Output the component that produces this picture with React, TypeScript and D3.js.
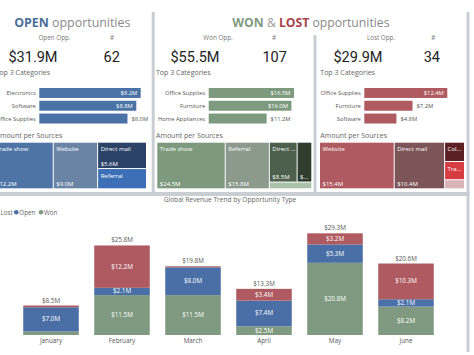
import React from "react";
import * as d3 from "d3";

// ---------- data ----------
const months = ["January", "February", "March", "April", "May", "June"];
const wonByMonth = [1.0, 11.5, 11.5, 2.5, 20.8, 8.2];
const openByMonth = [7.0, 2.1, 8.0, 7.4, 5.3, 2.1];
const lostByMonth = [0.5, 12.2, 0.3, 3.4, 3.2, 10.3];

const kpiLabels = ["Open Opp.", "Won Opp.", "Lost Opp."];
const kpiAmounts = [31.9, 55.5, 29.9];
const kpiCounts = [62, 107, 34];

const openCats = ["Electronics", "Software", "Office Supplies"];
const openCatVals = [9.2, 8.8, 8.0];
const wonCats = ["Office Supplies", "Furniture", "Home Appliances"];
const wonCatVals = [16.5, 16.0, 11.2];
const lostCats = ["Office Supplies", "Furniture", "Software"];
const lostCatVals = [12.4, 7.2, 4.8];

const openSrc = ["Trade show", "Website", "Direct mail", "Referral"];
const openSrcVals = [12.2, 9.0, 5.6, 4.3];
const wonSrc = ["Trade show", "Referral", "Direct mail", "Website", "Cold call"];
const wonSrcVals = [24.5, 15.8, 8.5, 4.5, 2.2];
const lostSrc = ["Website", "Direct mail", "Cold call", "Trade show", "Referral"];
const lostSrcVals = [15.4, 10.4, 1.7, 1.6, 0.8];

// ---------- styles ----------
const C_LOST = "#AE5A60";
const C_OPEN = "#4A6FA6";
const C_WON = "#7F9A80";
const GRID = "#C9CED3";
const FONT = "'Segoe UI', 'Open Sans', 'Noto Sans', sans-serif";
const NUMFONT = "Roboto, 'DejaVu Sans', sans-serif";

const fmt = (v: number) => `$${v.toFixed(1)}M`;

let ctx: CanvasRenderingContext2D | null = null;
function textW(s: string, size: number) {
  if (!ctx) ctx = document.createElement("canvas").getContext("2d");
  if (!ctx) return s.length * size * 0.5;
  ctx.font = `${size}px 'Open Sans'`;
  return ctx.measureText(s).width;
}
function truncate(s: string, w: number, size: number) {
  if (textW(s, size) <= w) return s;
  for (let n = s.length - 1; n >= 1; n--) {
    const t = s.slice(0, n) + "...";
    if (textW(t, size) <= w) return t;
  }
  return "";
}

type Panel = {
  cats: string[];
  catVals: number[];
  barColor: string;
  barX: number;
  barMaxW: number;
  sectionX: number;
  src: string[];
  srcVals: number[];
  groups: any[];
  colors: string[];
  tmX0: number;
  tmX1: number;
  kpiLabelX: number;
  hashX: number;
  amountX: number;
  countX: number;
};

const panels: Panel[] = [
  {
    cats: openCats, catVals: openCatVals, barColor: "#4A72A6", barX: 39.3, barMaxW: 101.4, sectionX: -4.5,
    src: openSrc, srcVals: openSrcVals, groups: [[0], [1], [2, 3]],
    colors: ["#4E74A6", "#6A84A6", "#2B4366", "#3C6FB5"], tmX0: -6.5, tmX1: 146,
    kpiLabelX: 54.5, hashX: 112, amountX: 33, countX: 111.7,
  },
  {
    cats: wonCats, catVals: wonCatVals, barColor: "#7E9A7E", barX: 208.7, barMaxW: 85.3, sectionX: 156,
    src: wonSrc, srcVals: wonSrcVals, groups: [[0], [1], [[2, 3], 4]],
    colors: ["#7E9A7E", "#8C9A8C", "#4D5F4D", "#2E3D2E", "#AAC2AA"], tmX0: 157.3, tmX1: 311.3,
    kpiLabelX: 218, hashX: 274, amountX: 195, countX: 274.7,
  },
  {
    cats: lostCats, catVals: lostCatVals, barColor: "#AE5A60", barX: 364.3, barMaxW: 83, sectionX: 320.3,
    src: lostSrc, srcVals: lostSrcVals, groups: [[0], [1], [2, 3, 4]],
    colors: ["#AE5A60", "#7B5558", "#5C1F24", "#D63D43", "#D8B4B6"], tmX0: 320, tmX1: 464,
    kpiLabelX: 381, hashX: 433.3, amountX: 358, countX: 431.8,
  },
];

function buildTree(g: any, p: Panel): any {
  if (Array.isArray(g)) return { children: g.map((c) => buildTree(c, p)) };
  return { name: p.src[g], value: p.srcVals[g], color: p.colors[g] };
}

function Treemap({ p }: { p: Panel }) {
  const y0 = 142.7, y1 = 188.3;
  const root = d3
    .hierarchy(buildTree(p.groups, p))
    .sum((d: any) => d.value ?? 0);
  d3.treemap<any>()
    .size([p.tmX1 - p.tmX0, y1 - y0])
    .paddingInner(1)
    .tile((node: any, a: number, b: number, c: number, d: number) =>
      node.depth % 2 === 0 ? d3.treemapDice(node, a, b, c, d) : d3.treemapSlice(node, a, b, c, d)
    )(root);
  const fs = 6;
  return (
    <g transform={`translate(${p.tmX0},${y0})`}>
      {root.leaves().map((l: any, i: number) => {
        const w = l.x1 - l.x0, h = l.y1 - l.y0;
        const name = h >= 14 && w >= 16 ? truncate(l.data.name, w - 3, fs) : "";
        const val = h >= 22 ? truncate(fmt(l.data.value), w - 3, fs) : "";
        return (
          <g key={i}>
            <rect x={l.x0} y={l.y0} width={w} height={h} fill={l.data.color} />
            {name && (
              <text x={l.x0 + 2.5} y={l.y0 + 8.5} fontSize={fs} fill="#fff" fontFamily={FONT}>
                {name}
              </text>
            )}
            {val && (
              <text x={l.x0 + 2.5} y={l.y1 - 2.5} fontSize={fs} fill="#fff" fontFamily={FONT}>
                {val}
              </text>
            )}
          </g>
        );
      })}
    </g>
  );
}

function TopPanel({ p, i }: { p: Panel; i: number }) {
  const maxV = d3.max(p.catVals) as number;
  const x = d3.scaleLinear().domain([0, maxV]).range([0, p.barMaxW]);
  const y = d3.scaleBand<number>().domain(p.cats.map((_, k) => k)).range([86.7, 124.8]).paddingInner(0.22).paddingOuter(0.1);
  return (
    <g>
      <text x={p.kpiLabelX} y={40} textAnchor="middle" fontSize={6.3} fill="#777" fontFamily={FONT}>
        {kpiLabels[i]}
      </text>
      <text x={p.hashX} y={40} textAnchor="middle" fontSize={6.3} fill="#777" fontFamily={FONT}>
        #
      </text>
      <text x={p.amountX} y={62} textAnchor="middle" fontSize={14.5} fill="#222" fontFamily={NUMFONT}>
        {`$${kpiAmounts[i].toFixed(1)}M`}
      </text>
      <text x={p.countX} y={62} textAnchor="middle" fontSize={14.5} fill="#222" fontFamily={NUMFONT}>
        {kpiCounts[i]}
      </text>
      <text x={p.sectionX} y={75} fontSize={7} fill="#666" fontFamily={FONT}>
        Top 3 Categories
      </text>
      {p.cats.map((c, k) => {
        const yy = y(k) as number;
        const bh = y.bandwidth();
        const w = x(p.catVals[k]);
        const inside = p.catVals[k] / maxV > 0.9;
        return (
          <g key={c}>
            <text x={p.barX - 3.5} y={yy + bh / 2 + 2} textAnchor="end" fontSize={5.8} fill="#555" fontFamily={FONT}>
              {c}
            </text>
            <rect x={p.barX} y={yy} width={w} height={bh} fill={p.barColor} />
            <text
              x={inside ? p.barX + w - 3.5 : p.barX + w + 4}
              y={yy + bh / 2 + 2}
              textAnchor={inside ? "end" : "start"}
              fontSize={5.8}
              fill={inside ? "#fff" : "#555"}
              fontFamily={FONT}
            >
              {fmt(p.catVals[k])}
            </text>
          </g>
        );
      })}
      <text x={p.sectionX} y={138} fontSize={7} fill="#666" fontFamily={FONT}>
        Amount per Sources
      </text>
      <Treemap p={p} />
    </g>
  );
}

function BarChart() {
  const data = months.map((m, i) => ({ month: m, Won: wonByMonth[i], Open: openByMonth[i], Lost: lostByMonth[i] }));
  const keys = ["Won", "Open", "Lost"];
  const colors: Record<string, string> = { Won: C_WON, Open: C_OPEN, Lost: C_LOST };
  const series = d3.stack<any>().keys(keys)(data);
  const x = d3.scaleBand().domain(months).range([15.5, 441.5]).paddingInner(0.218).paddingOuter(0.109);
  const y = d3.scaleLinear().domain([0, 30]).range([335, 335 - 30 * 3.47]);
  const bw = x.bandwidth();
  return (
    <g>
      <text x={230} y={201.5} textAnchor="middle" fontSize={6.6} fill="#666" fontFamily={FONT}>
        Global Revenue Trend by Opportunity Type
      </text>
      {[
        { k: "Lost", cx: -3.5, tx: 0.5 },
        { k: "Open", cx: 16.3, tx: 19.3 },
        { k: "Won", cx: 41, tx: 44 },
      ].map((it) => (
        <g key={it.k}>
          <circle cx={it.cx} cy={212.3} r={2.3} fill={colors[it.k]} />
          <text x={it.tx} y={214.5} fontSize={6.3} fill="#666" fontFamily={FONT}>
            {it.k}
          </text>
        </g>
      ))}
      {series.map((s) => (
        <g key={s.key} fill={colors[s.key]}>
          {s.map((d, i) => (
            <rect key={i} x={x(months[i])} y={y(d[1])} width={bw} height={y(d[0]) - y(d[1])} />
          ))}
        </g>
      ))}
      {series.map((s) =>
        s.map((d, i) => {
          const v = d[1] - d[0];
          if (v < 2) return null;
          return (
            <text
              key={s.key + i}
              x={(x(months[i]) as number) + bw / 2}
              y={(y(d[0]) + y(d[1])) / 2 + 2}
              textAnchor="middle"
              fontSize={6.3}
              fill="#fff"
              fontFamily={FONT}
            >
              {fmt(v)}
            </text>
          );
        })
      )}
      {data.map((d) => {
        const tot = d.Won + d.Open + d.Lost;
        return (
          <g key={d.month}>
            <text x={(x(d.month) as number) + bw / 2} y={y(tot) - 3} textAnchor="middle" fontSize={6.3} fill="#555" fontFamily={FONT}>
              {fmt(tot)}
            </text>
            <text x={(x(d.month) as number) + bw / 2} y={343} textAnchor="middle" fontSize={6.3} fill="#555" fontFamily={FONT}>
              {d.month}
            </text>
          </g>
        );
      })}
    </g>
  );
}

export default function App() {
  return (
    <svg
      width={474}
      height={355}
      viewBox="0 0 474 355"
      style={{ position: "absolute", left: 0, top: 0, background: "#fff" }}
    >
      <rect x={0} y={0} width={474} height={355} fill="#fff" />
      {/* frame lines */}
      <rect x={151.7} y={12} width={3} height={180} fill={GRID} />
      <rect x={313.5} y={35} width={3} height={157} fill={GRID} />
      <rect x={466.5} y={12} width={3} height={340} fill={GRID} />
      <rect x={0} y={192} width={469.5} height={4} fill={GRID} />
      {/* titles */}
      <text x={72.3} y={26.5} textAnchor="middle" fontSize={12.4} fontFamily={FONT}>
        <tspan fill="#4A6E9A" fontWeight="bold">OPEN</tspan>
        <tspan fill="#8A8A8A"> opportunities</tspan>
      </text>
      <text x={310.9} y={26.5} textAnchor="middle" fontSize={12.2} fontFamily={FONT}>
        <tspan fill="#7F9A80" fontWeight="bold">WON</tspan>
        <tspan fill="#9A9A9A"> &amp; </tspan>
        <tspan fill="#A8434A" fontWeight="bold">LOST</tspan>
        <tspan fill="#8A8A8A"> opportunities</tspan>
      </text>
      {panels.map((p, i) => (
        <TopPanel key={i} p={p} i={i} />
      ))}
      <BarChart />
    </svg>
  );
}
